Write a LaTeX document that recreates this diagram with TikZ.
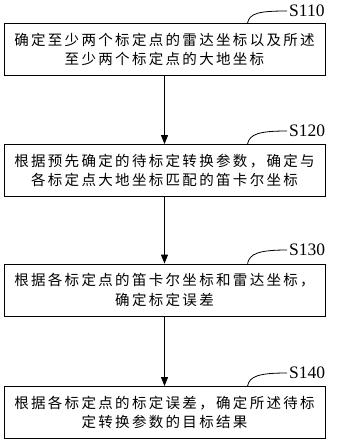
\documentclass[tikz,border=0pt]{standalone}
\usepackage{fontspec}
\setmainfont{Liberation Serif}
\newfontfamily\cjk[LetterSpace=16]{Noto Sans CJK SC}
\usetikzlibrary{arrows.meta}
\begin{document}
\begin{tikzpicture}[x=1pt,y=1pt,
  stepbox/.style={draw,line width=0.8pt,minimum width=321pt,minimum height=52pt,
    inner sep=0pt,text width=318pt,align=center,
    font=\cjk\fontsize{14.5}{19.5}\selectfont},
  flow/.style={line width=0.8pt,-{Triangle[length=9pt,width=7pt]}},
  tagline/.style={line width=0.8pt},
  tag/.style={anchor=west,inner sep=0pt,font=\fontsize{17.5}{20}\selectfont}]
\useasboundingbox (0,0) rectangle (339,-443);
\node[stepbox] (b1) at (164.5,-49.5) {确定至少两个标定点的雷达坐标以及所述\\至少两个标定点的大地坐标};
\node[stepbox] (b2) at (164.5,-170.5) {根据预先确定的待标定转换参数，确定与\\各标定点大地坐标匹配的笛卡尔坐标};
\node[stepbox] (b3) at (164.5,-290) {根据各标定点的笛卡尔坐标和雷达坐标，\\确定标定误差};
\node[stepbox] (b4) at (164.5,-412.5) {根据各标定点的标定误差，确定所述待标\\定转换参数的目标结果};
\draw[flow] (b1.south) -- (b2.north);
\draw[flow] (b2.south) -- (b3.north);
\draw[flow] (b3.south) -- (b4.north);
\foreach \b/\t/\y in {b1/S110/-11, b2/S120/-131, b3/S130/-250, b4/S140/-373}{
  \coordinate (s\b) at ([xshift=83pt]\b.north);
  \coordinate (e\b) at (287,\y);
  \draw[tagline] (s\b) .. controls ([xshift=2pt,yshift=10pt]s\b) and ([xshift=-28pt]e\b) .. (e\b);
  \node[tag] (l\b) at (289,\y) {\t};
}
\end{tikzpicture}
\end{document}
